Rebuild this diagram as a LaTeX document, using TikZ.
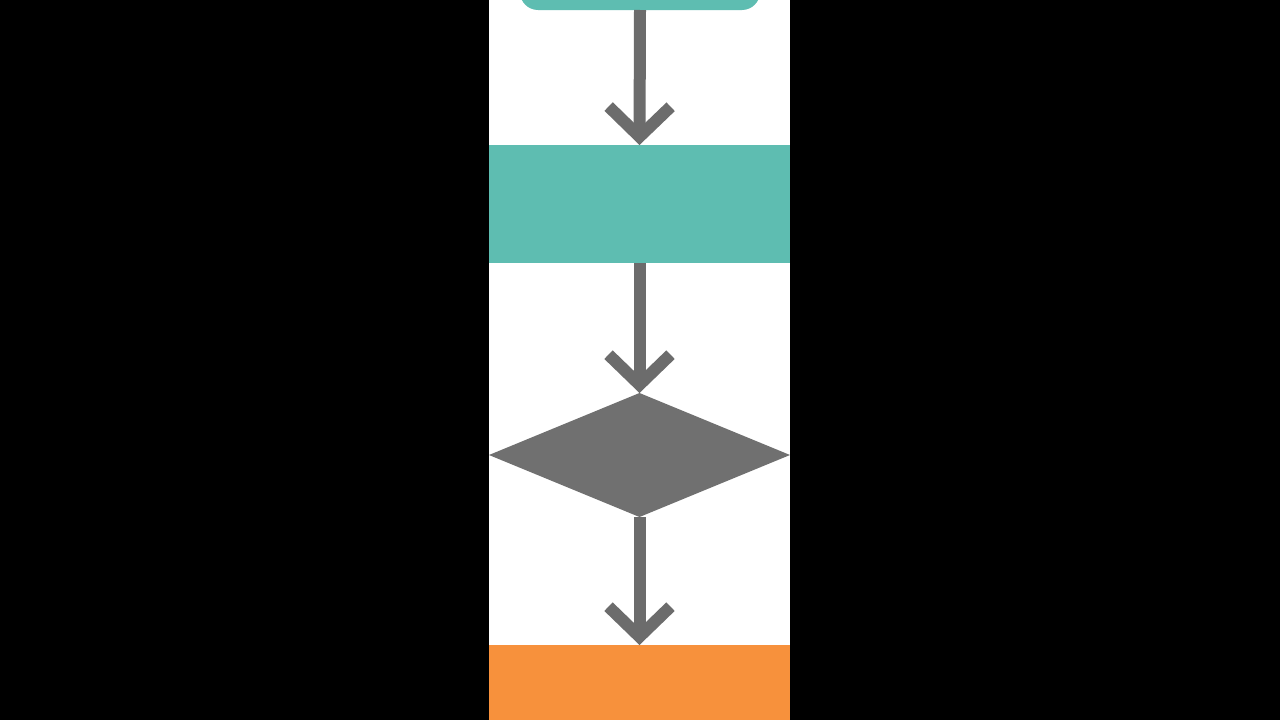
\documentclass[tikz,border=0pt]{standalone}
\usetikzlibrary{shapes.geometric,arrows.meta}
\definecolor{tealc}{RGB}{94,189,177}
\definecolor{grayc}{RGB}{108,108,108}
\definecolor{diac}{RGB}{112,112,112}
\definecolor{orangec}{RGB}{247,145,60}
\tikzset{
  box/.style={rectangle, draw=none, inner sep=0pt, outer sep=0pt},
  flowarrow/.style={draw=grayc, line width=12pt, line cap=butt,
    -{Straight Barb[sharp, length=30pt, width=62pt]}},
}
\begin{document}
\begin{tikzpicture}[x=1pt,y=-1pt]
  \fill[black] (0,0) rectangle (1280,720);
  \fill[white] (489,0) rectangle (790,720);
  \useasboundingbox (0,0) rectangle (1280,720);
  \begin{scope}
    \clip (489,0) rectangle (790,720);
    \node[box, fill=tealc, rounded corners=18pt, minimum width=240pt, minimum height=80pt] (start) at (640,-30) {};
    \node[box, fill=tealc, minimum width=301pt, minimum height=118pt] (proc) at (639.5,204) {};
    \node[diamond, fill=diac, inner sep=0pt, outer sep=0pt, minimum width=301pt, minimum height=124pt] (dec) at (639.5,455) {};
    \node[box, fill=orangec, minimum width=301pt, minimum height=120pt] (endn) at (639.5,705) {};
  \end{scope}
  \draw[flowarrow] (start.south) -- (proc.north);
  \draw[flowarrow] (proc.south) -- (dec.north);
  \draw[flowarrow] (dec.south) -- (endn.north);
\end{tikzpicture}
\end{document}
